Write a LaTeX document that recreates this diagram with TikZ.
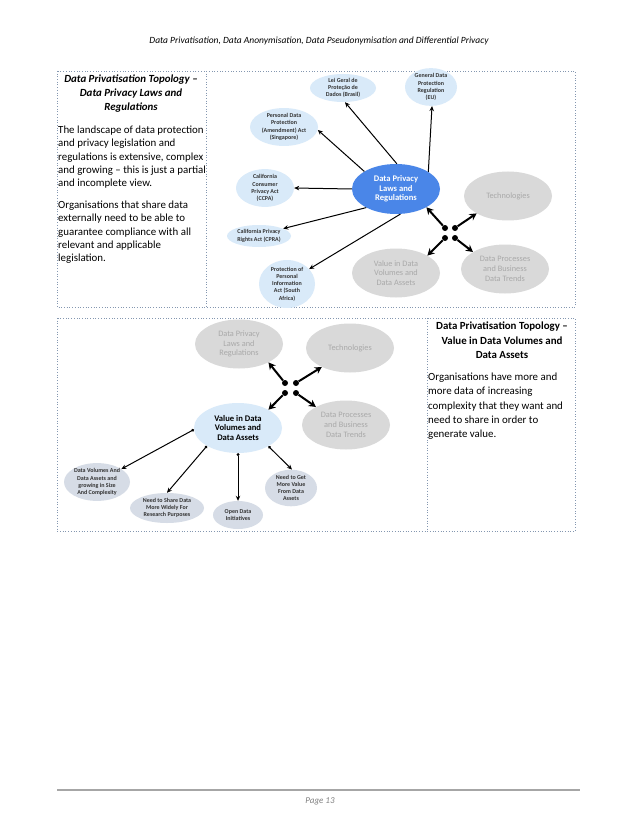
\documentclass[tikz,border=0pt]{standalone}
\usepackage{fontspec}
\setmainfont{Carlito}
\usetikzlibrary{shapes.geometric,arrows.meta}
\definecolor{bord}{HTML}{8497B0}
\definecolor{lblue}{HTML}{D9EAF9}
\definecolor{mblue}{HTML}{4A86E8}
\definecolor{gfill}{HTML}{D9D9D9}
\definecolor{gtext}{HTML}{A9A9A9}
\definecolor{sfill}{HTML}{D6DCE6}
\definecolor{dtext}{HTML}{333333}
\tikzset{
  panel/.style={draw=bord, dotted, line width=0.7pt},
  law/.style={ellipse, fill=lblue, inner sep=0pt, align=center, text=dtext,
    font=\fontsize{6}{7.2}\selectfont\bfseries},
  sub/.style={law, fill=sfill},
  gnode/.style={ellipse, fill=gfill, inner sep=0pt, align=center, text=gtext,
    minimum width=88pt, minimum height=49pt, font=\fontsize{8.3}{9.8}\selectfont},
  bnode/.style={ellipse, fill=mblue, inner sep=0pt, align=center, text=white,
    minimum width=88pt, minimum height=50pt, font=\fontsize{8.6}{9.6}\selectfont\bfseries},
  vnode/.style={bnode, fill=lblue, text=black},
  dotn/.style={circle, fill=black, inner sep=0pt, minimum size=6pt},
  thin/.style={line width=1pt, -{Stealth[length=5pt,width=4.5pt]}},
  thinb/.style={line width=1pt, {Circle[length=2.8pt]}-{Stealth[length=5pt,width=4.5pt]}},
  thick/.style={line width=2pt, -{Stealth[length=7pt,width=7.5pt]}},
  body/.style={anchor=north west, align=left, inner sep=0pt, font=\fontsize{10.9}{13.2}\selectfont},
}
\begin{document}
\begin{tikzpicture}[x=1pt,y=-1pt]
\useasboundingbox (0,0) rectangle (638,826);
\fill[white] (0,0) rectangle (638,826);
% header
\node[font=\fontsize{9.5}{11}\selectfont\itshape] (hdr) at (319,41) {Data Privatisation, Data Anonymisation, Data Pseudonymisation and Differential Privacy};
% panels
\draw[panel] (57,71) rectangle (575,307);
\draw[panel] (206,71) -- (206,307);
\draw[panel] (57,318) rectangle (575,531);
\draw[panel] (427,318) -- (427,531);
% top left text
\node[align=center, inner sep=0pt, font=\fontsize{10.9}{13.6}\selectfont\bfseries\itshape, anchor=north] (t1) at (131,75)
  {Data Privatisation Topology –\\Data Privacy Laws and\\Regulations};
\node[body] (b1) at (58,126) {The landscape of data protection\\and privacy legislation and\\regulations is extensive, complex\\and growing – this is just a partial\\and incomplete view.};
\node[body] (b2) at (58,201) {Organisations that share data\\externally need to be able to\\guarantee compliance with all\\relevant and applicable\\legislation.};
% top diagram
\node[bnode] (dpl) at (396,189) {Data Privacy\\Laws and\\Regulations};
\node[gnode] (tech) at (508,196) {Technologies};
\node[gnode] (proc) at (505,269) {Data Processes\\and Business\\Data Trends};
\node[gnode] (val) at (396,273) {Value in Data\\Volumes and\\Data Assets};
\node[law, minimum width=66pt, minimum height=28pt] (lgpd) at (343,88) {Lei Geral de\\Proteção de\\Dados (Brasil)};
\node[law, minimum width=52pt, minimum height=34pt] (gdpr) at (431,87) {General Data\\Protection\\Regulation\\(EU)};
\node[law, minimum width=68pt, minimum height=34pt] (pdpa) at (284,127) {Personal Data\\Protection\\(Amendment) Act\\(Singapore)};
\node[law, minimum width=58pt, minimum height=32pt] (ccpa) at (265,188) {California\\Consumer\\Privacy Act\\(CCPA)};
\node[law, minimum width=64pt, minimum height=22pt] (cpra) at (259,236) {California Privacy\\Rights Act (CPRA)};
\node[law, minimum width=56pt, minimum height=44pt] (popi) at (287,284) {Protection of\\Personal\\Information\\Act  (South\\Africa)};
\draw[thin] (dpl.88) -- (lgpd.-82);
\draw[thin] (dpl.28) -- (gdpr.-87);
\draw[thin] (dpl.151) -- (pdpa.-5);
\draw[thin] (dpl.180) -- (ccpa.0);
\draw[thin] (dpl.-148) -- (cpra.17);
\draw[thin] (dpl.-80) -- (popi.34);
\node[dotn] (d1) at (445,228) {};
\node[dotn] (d2) at (455,228) {};
\node[dotn] (d3) at (445,238) {};
\node[dotn] (d4) at (455,238) {};
\draw[thick] (d1) -- (dpl.-31);
\draw[thick] (d2) -- (tech.-151);
\draw[thick] (d3) -- (val.29);
\draw[thick] (d4) -- (proc.152);
% bottom right text
\node[align=center, inner sep=0pt, font=\fontsize{10.9}{14.2}\selectfont\bfseries, anchor=north] (t2) at (502,322)
  {Data Privatisation Topology –\\Value in Data Volumes and\\Data Assets};
\node[body, font=\fontsize{10.9}{14.2}\selectfont] (b3) at (428,373) {Organisations have more and\\more data of increasing\\complexity that they want and\\need to share in order to\\generate value.};
% bottom diagram
\node[gnode] (dpl2) at (239,344) {Data Privacy\\Laws and\\Regulations};
\node[gnode] (tech2) at (350,348) {Technologies};
\node[gnode] (proc2) at (346,425) {Data Processes\\and Business\\Data Trends};
\node[vnode] (val2) at (238,428) {Value in Data\\Volumes and\\Data Assets};
\node[dotn] (e1) at (285,383) {};
\node[dotn] (e2) at (296,383) {};
\node[dotn] (e3) at (285,393) {};
\node[dotn] (e4) at (296,393) {};
\draw[thick] (e1) -- (dpl2.-32);
\draw[thick] (e2) -- (tech2.-146);
\draw[thick] (e3) -- (val2.31);
\draw[thick] (e4) -- (proc2.149);
\node[sub, minimum width=66pt, minimum height=33pt] (dva) at (97,482) {Data Volumes And\\Data Assets and\\growing in Size\\And Complexity};
\node[sub, minimum width=74pt, minimum height=30pt] (nsd) at (167,508) {Need to Share Data\\More Widely For\\Research Purposes};
\node[sub, minimum width=50pt, minimum height=28pt] (odi) at (238,515) {Open Data\\Initiatives};
\node[sub, minimum width=52pt, minimum height=34pt] (nmv) at (291,488) {Need to Get\\More Value\\From Data\\Assets};
\draw[thinb] (val2.182) -- (dva.28);
\draw[thinb] (val2.-150) -- (nsd.90);
\draw[thinb] (val2.-90) -- (odi.90);
\draw[thinb] (val2.-31) -- (nmv.87);
% footer
\draw[color=gray!70, line width=1.3pt] (57,790) -- (580,790);
\node[font=\fontsize{9}{10}\selectfont\itshape, text=gray] (pg) at (320,801) {Page 13};
\end{tikzpicture}
\end{document}
